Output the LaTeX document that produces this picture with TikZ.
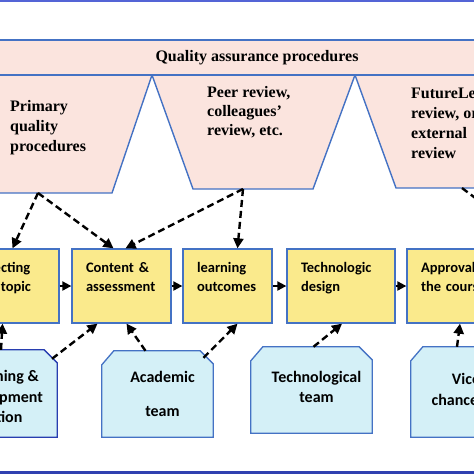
\documentclass[tikz,border=0pt]{standalone}
\usepackage{fontspec}
\setmainfont{Liberation Serif}
\newfontfamily\boxfont{Carlito}
\usetikzlibrary{arrows.meta,calc}
\definecolor{qapink}{RGB}{251,228,222}
\definecolor{qablue}{RGB}{68,114,196}
\definecolor{teamdark}{RGB}{40,62,176}
\definecolor{stepyellow}{RGB}{250,234,140}
\definecolor{teamcyan}{RGB}{212,240,247}
\definecolor{framea}{RGB}{84,100,214}
\definecolor{frameb}{RGB}{48,64,176}
\tikzset{
  band/.style={fill=qapink, draw=qablue, line width=1.4pt},
  stepbox/.style={rectangle, draw=qablue, fill=stepyellow, line width=1.3pt,
    font=\boxfont\bfseries\fontsize{14.5}{19}\selectfont, align=left,
    inner xsep=14pt, inner ysep=0pt, minimum height=74pt},
  teambox/.style={rectangle, inner sep=0pt},
  teamline/.style={fill=teamcyan, line width=1.3pt, line join=miter},
  teamtext/.style={font=\boxfont\bfseries\fontsize{16}{20.5}\selectfont, align=center, xshift=5pt},
  qatext/.style={font=\bfseries\fontsize{16}{20}\selectfont, align=left, anchor=west, inner sep=0pt},
  flow/.style={-{Triangle[length=9pt,width=9pt]}, line width=2pt},
  review/.style={-{Triangle[length=10pt,width=10pt]}, line width=2.4pt, dash pattern=on 7pt off 4pt},
}
\begin{document}
\begin{tikzpicture}[x=1pt,y=-1pt]
\useasboundingbox (0,0) rectangle (474,474);
\clip (0,0) rectangle (474,474);
% frame lines
\draw[framea, line width=2.5pt] (0,1) -- (474,1);
\draw[frameb, line width=2.5pt] (0,472.5) -- (474,472.5);
% review trapezia
\draw[band] (-51,75) -- (152,75) -- (112,193) -- (-11,193) -- cycle;
\draw[band] (152,75) -- (355,75) -- (313,189) -- (193,189) -- cycle;
\draw[band] (355,75) -- (558,75) -- (517,188) -- (396,188) -- cycle;
\draw[band] (-5,40) rectangle (480,75);
\node[font=\bfseries\fontsize{16}{20}\selectfont] (qa) at (257,58) {Quality assurance procedures};
\node[qatext] (primary) at (10,128) {Primary\\quality\\procedures};
\node[qatext, font=\bfseries\fontsize{16}{19}\selectfont] (peer) at (207,112) {Peer review,\\colleagues'\\review, etc.};
\node[qatext] (future) at (411,123) {FutureLearn\\review, or\\external\\review};
\coordinate (p1) at (38,193);
\coordinate (p2) at (243,189);
\coordinate (p3) at (462,188);
% course steps
\node[stepbox, text width=69pt] (c1) at (10.5,286) {Selecting\\the topic\\\mbox{}};
\node[stepbox, text width=71pt] (c2) at (121.5,286) {Content \&\\assessment\\\mbox{}};
\node[stepbox, text width=61pt] (c3) at (227.5,286) {learning\\outcomes\\\mbox{}};
\node[stepbox, text width=80pt] (c4) at (341,286) {Technologic\\design\\\mbox{}};
\node[stepbox, text width=75pt] (c5) at (458.5,286) {Approval of\\the course\\\mbox{}};
\coordinate (c6) at (543,249);
\foreach \a/\b in {c1/c2,c2/c3,c3/c4,c4/c5}
  \draw[flow] (\a) -- (\b);
% teams
\node[teambox, minimum width=128pt, minimum height=87pt] (teamA) at (-7,393.5) {};
\node[teambox, minimum width=111pt, minimum height=86pt] (acad) at (157.5,394) {};
\node[teambox, minimum width=121pt, minimum height=86pt] (tech) at (311.5,390) {};
\node[teambox, minimum width=100pt, minimum height=90pt] (vice) at (461,392) {};
\foreach \t/\c in {teamA/teamdark,acad/qablue,tech/qablue,vice/qablue}
  \path[teamline, draw=\c] (\t.south west) -- ($(\t.north west)+(0,14)$) -- ($(\t.north west)+(12,0)$)
    -- ($(\t.north east)+(-13,0)$) -- ($(\t.north east)+(0,13)$) -- (\t.south east) -- cycle;
\node[teamtext, yshift=-3pt] (teamAt) at (teamA) {E-learning \&\\Development\\Section};
\node[teamtext] (acadt) at (acad) {Academic\\[13.5pt]team};
\node[teamtext, yshift=3pt] (techt) at (tech) {Technological\\team};
\node[teamtext, yshift=2.5pt] (vicet) at (vice) {Vice\\chancellor};
% dashed links
\draw[review] (p1) -- ($(c1.north)+(2,0)$);
\draw[review] (p1) -- ($(c2.north)+(-8,0)$);
\draw[review] (p2) -- ($(c2.north)+(4,0)$);
\draw[review] (p2) -- ($(c3.north)+(10,0)$);
\draw[review] (p3) -- (c6);
\draw[review] ($(teamA.north)+(8,0)$) -- ($(c1.south)+(-8,0)$);
\draw[review] ($(teamA.north)+(59,9)$) -- ($(c2.south)+(-24,0)$);
\draw[review] ($(acad.north)+(-12,0)$) -- ($(c2.south)+(5,0)$);
\draw[review] ($(acad.north)+(46,7)$) -- ($(c3.south)+(10,0)$);
\draw[review] ($(tech.north)+(2,0)$) -- ($(c4.south)+(1,0)$);
\draw[review] ($(vice.north)+(-4,0)$) -- ($(c5.south)+(1.5,0)$);
\end{tikzpicture}
\end{document}
